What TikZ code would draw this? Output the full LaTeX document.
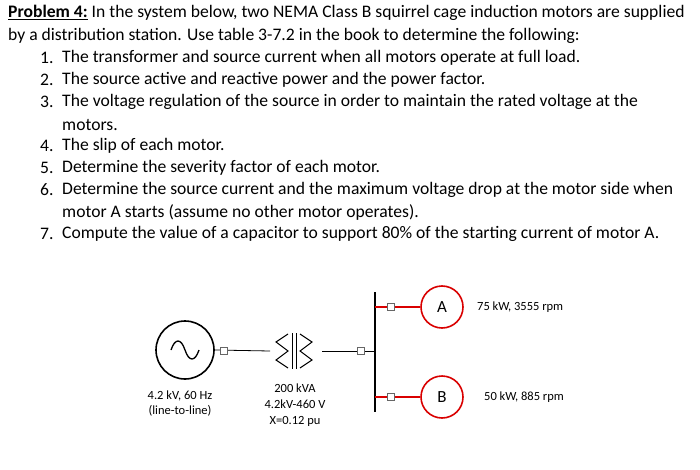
\documentclass[tikz,border=0pt]{standalone}
\usepackage{fontspec}
\setmainfont{Carlito}
\begin{document}
\begin{tikzpicture}[x=1pt,y=-1pt,
 tl/.style={anchor=west,inner sep=0,font=\fontsize{17.6}{20}\selectfont},
 sm/.style={inner sep=0,font=\fontsize{12.5}{15}\selectfont,align=center},
 sq/.style={draw=black!60,fill=white,minimum size=7,inner sep=0,line width=0.6},
 mot/.style={circle,draw=red!85!black,line width=1.6,minimum size=42,inner sep=0,font=\fontsize{17}{19}\selectfont},
 rl/.style={red!85!black,line width=1.6}]
\useasboundingbox (0,0) rectangle (700,470);
\node[tl] (t0) at (8,13) {\textbf{\underline{Problem 4:}} In the system below, two NEMA Class B squirrel cage induction motors are supplied};
\node[tl] (t1) at (8,36) {by a distribution station. Use table 3-7.2 in the book to determine the following:};
\foreach \n/\y/\s in {1/58/{The transformer and source current when all motors operate at full load.},
 2/80/{The source active and reactive power and the power factor.},
 3/102/{The voltage regulation of the source in order to maintain the rated voltage at the},
 4/146/{The slip of each motor.},
 5/168/{Determine the severity factor of each motor.},
 6/190/{Determine the source current and the maximum voltage drop at the motor side when},
 7/234/{Compute the value of a capacitor to support 80\% of the starting current of motor A.}}
 {\node[tl] (n\n) at (40,\y) {\n.}; \node[tl] (s\n) at (62,\y) {\s};}
\node[tl] (s3b) at (62,125) {motors.};
\node[tl] (s6b) at (62,212) {motor A starts (assume no other motor operates).};
% diagram
\node[circle,draw,line width=1.6,minimum size=58,inner sep=0] (g) at (185,350) {};
\draw[line width=1.3] (171,350) .. controls (175,338) and (181,338) .. (185,350) .. controls (189,362) and (195,362) .. (199,350);
\coordinate (tl) at (270,351); \coordinate (tr) at (322,351);
\draw[line width=0.8] (g.east) -- (tl);
\node[sq] (q1) at (224,351) {};
\draw[line width=1] (288,334) -- (276,342) -- (288,351) -- (276,360) -- (288,368);
\draw[line width=1] (300,334) -- (312,342) -- (300,351) -- (312,360) -- (300,368);
\draw[line width=1] (292,333) -- (292,369) (296,333) -- (296,369);
\coordinate (bt) at (375,292); \coordinate (bb) at (375,412); \coordinate (bm) at (375,351);
\draw[line width=0.8] (tr) -- (bm);
\node[sq] (q2) at (361,351) {};
\draw[line width=2.5] (bt) -- (bb);
\node[mot] (A) at (442,307) {A};
\node[mot] (B) at (442,397) {B};
\draw[rl] (375,307) -- (A); \draw[rl] (375,397) -- (B);
\node[sq] (qa) at (391,307) {}; \node[sq] (qb) at (391,397) {};
\node[sm,anchor=west] (la) at (477,307) {75 kW, 3555 rpm};
\node[sm,anchor=west] (lb) at (484,397) {50 kW, 885 rpm};
\node[sm] (lg) at (180,404) {4.2 kV, 60 Hz\\(line-to-line)};
\node[sm] (lt) at (295,405) {200 kVA\\[1pt]4.2kV-460 V\\[1pt]X=0.12 pu};
\end{tikzpicture}
\end{document}
